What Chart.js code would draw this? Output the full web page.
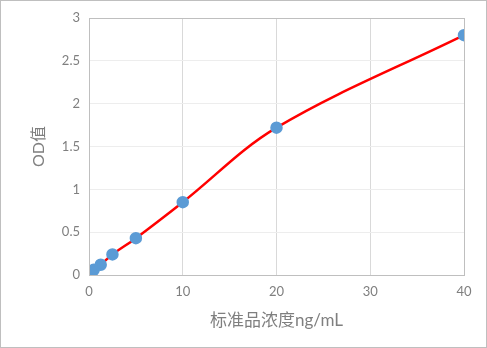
<!DOCTYPE html>
<html>
<head>
<meta charset="utf-8">
<script src="https://cdn.jsdelivr.net/npm/chart.js@4"></script>
<style>
  html, body { margin: 0; padding: 0; background: #fff; }
  #wrap { position: relative; width: 485px; height: 346px; border: 1px solid #bfbfbf; }
</style>
</head>
<body>
<div id="wrap"><canvas id="curve" width="485" height="346"></canvas></div>
<script>
// standard curve: concentration (ng/mL) vs OD
const concentrations = [0.5, 1.25, 2.5, 5, 10, 20, 40];
const odValues = [0.06, 0.12, 0.24, 0.43, 0.85, 1.72, 2.8];
const xTicks = [0, 10, 20, 30, 40];
const yTicks = [0, 0.5, 1, 1.5, 2, 2.5, 3];

const labelFont = { family: 'Lato, "Noto Sans CJK SC", sans-serif', size: 13 };
const gray = '#7f7f7f';

new Chart(document.getElementById('curve'), {
  type: 'scatter',
  data: {
    datasets: [{
      data: concentrations.map((c, i) => ({ x: c, y: odValues[i] })),
      showLine: true,
      borderColor: '#ff0000',
      borderWidth: 2.5,
      tension: 0.35,
      pointRadius: 5,
      pointHoverRadius: 5,
      pointBackgroundColor: '#5b9bd5',
      pointBorderColor: '#5b9bd5'
    }]
  },
  options: {
    responsive: false,
    animation: false,
    layout: { padding: { top: 17, right: 22, left: 0, bottom: 0 } },
    plugins: { legend: { display: false }, tooltip: { enabled: false } },
    scales: {
      x: {
        type: 'linear',
        min: 0, max: 40,
        afterBuildTicks: s => { s.ticks = xTicks.map(v => ({ value: v })); },
        afterFit: s => { s.height = 72; },
        grid: { color: '#d9d9d9', drawTicks: false },
        border: { color: '#bfbfbf' },
        ticks: { color: gray, font: labelFont, padding: 9, callback: v => String(v) },
        title: {
          display: true,
          text: '标准品浓度ng/mL',
          color: gray,
          font: { family: 'Lato, "Noto Sans CJK SC", sans-serif', size: 17 },
          padding: { top: 4, bottom: 16 }
        }
      },
      y: {
        min: 0, max: 3,
        afterBuildTicks: s => { s.ticks = yTicks.map(v => ({ value: v })); },
        afterFit: s => { s.width = 88; },
        grid: { color: '#ededed', drawTicks: false },
        border: { color: '#bfbfbf' },
        ticks: { color: gray, font: labelFont, padding: 9, callback: v => String(v) },
        title: {
          display: true,
          text: 'OD值',
          color: gray,
          font: { family: 'Lato, "Noto Sans CJK SC", sans-serif', size: 16 },
          padding: { top: 28, bottom: 4 }
        }
      }
    }
  },
  plugins: [{
    id: 'frame',
    afterDraw(chart) {
      const { ctx, chartArea: a } = chart;
      ctx.save();
      ctx.strokeStyle = '#bfbfbf';
      ctx.lineWidth = 1;
      ctx.strokeRect(Math.round(a.left) + 0.5, Math.round(a.top) + 0.5,
        Math.round(a.right - a.left), Math.round(a.bottom - a.top));
      ctx.restore();
    }
  }]
});
</script>
</body>
</html>
